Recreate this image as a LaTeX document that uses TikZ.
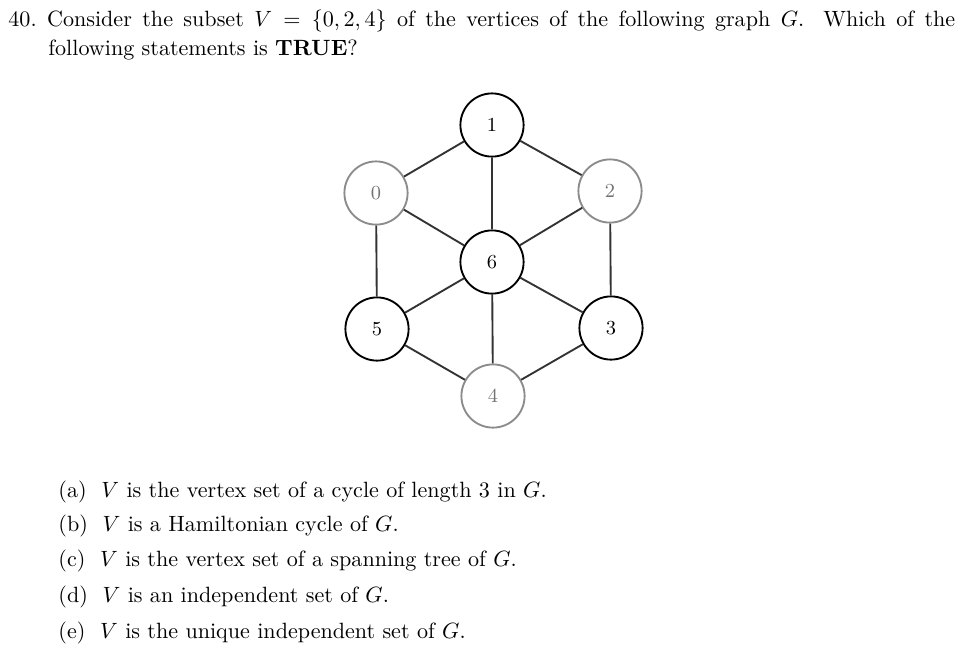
\documentclass[tikz,border=0pt]{standalone}
\begin{document}
\begin{tikzpicture}[x=0.451bp,y=-0.451bp,
  vtx/.style={circle,draw,line width=0.85bp,minimum size=28.5bp,inner sep=0pt,font=\small},
  gv/.style={vtx,draw=black!45,text=black!55},
  edge/.style={line width=0.85bp,black!80},
  item/.style={anchor=base west,inner sep=0pt}]
\useasboundingbox (0,0) rectangle (969,663);
\node[item] (l1) at (8,26) {\hbox to 427bp{40.\ Consider the subset $V=\{0,2,4\}$ of the vertices of the following graph $G$. Which of the}};
\node[item] (l2) at (48,55) {following statements is \textbf{TRUE}?};
\node[vtx] (1) at (492,125) {1};
\node[gv] (0) at (376,193) {0};
\node[gv] (2) at (610,191) {2};
\node[vtx] (6) at (492,262) {6};
\node[vtx] (5) at (377,329) {5};
\node[vtx] (3) at (611,328) {3};
\node[gv] (4) at (493,396) {4};
\foreach \a/\b in {1/0,1/2,1/6,0/6,2/6,0/5,2/3,6/5,6/3,6/4,5/4,3/4}
  \draw[edge] (\a) -- (\b);
\node[item] (a) at (58,497) {(a)\ \ $V$ is the vertex set of a cycle of length 3 in $G$.};
\node[item] (b) at (58,531) {(b)\ \ $V$ is a Hamiltonian cycle of $G$.};
\node[item] (c) at (58,566) {(c)\ \ $V$ is the vertex set of a spanning tree of $G$.};
\node[item] (d) at (58,602) {(d)\ \ $V$ is an independent set of $G$.};
\node[item] (e) at (58,638) {(e)\ \ $V$ is the unique independent set of $G$.};
\end{tikzpicture}
\end{document}
